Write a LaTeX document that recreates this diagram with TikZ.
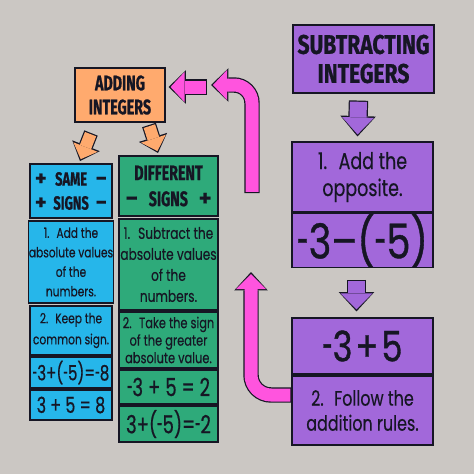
\documentclass[tikz,border=0pt]{standalone}
\usepackage{fontspec}
\usetikzlibrary{arrows.meta,calc}
\setmainfont{Poppins}
\newfontfamily\bodyf[FakeStretch=0.76,FakeBold=0.3]{Poppins}
\newfontfamily\eqf[FakeStretch=0.72,FakeBold=0.6]{Poppins}
\newfontfamily\bigf[FakeStretch=0.8,FakeBold=0.8]{Poppins}
\newfontfamily\hdr[FakeStretch=0.68,FakeBold=0.8]{Fira Sans}
\newfontfamily\hdrw[FakeStretch=0.78,FakeBold=0.8]{Fira Sans}
\newfontfamily\sgn[FakeBold=0.6]{Fira Sans}
\newcommand\hy{\scalebox{0.55}[1]{-}}
\definecolor{wall}{RGB}{203,199,195}
\definecolor{orng}{RGB}{255,170,110}
\definecolor{cyanb}{RGB}{38,182,234}
\definecolor{greenb}{RGB}{46,170,122}
\definecolor{purp}{RGB}{162,104,218}
\definecolor{pnk}{RGB}{255,84,222}
\definecolor{ink}{RGB}{22,22,36}
\newcommand\barrow[6][]{%
  \pgfmathsetmacro\bsw{#3+2.4}\pgfmathsetmacro\bhw{#4+3.6}\pgfmathsetmacro\bhl{#5+3.4}%
  \draw[ink, line width=\bsw pt, #1, -{Triangle[length=\bhl pt, width=\bhw pt, line width=0pt]}] #6;
  \draw[#2, line width=#3pt, #1, shorten >=2pt, shorten <=1.2pt, -{Triangle[length=#5pt, width=#4pt, line width=0pt]}] #6;
}
\tikzset{
  card/.style={draw=ink, line width=1.1pt, inner sep=0pt, align=center, text=ink},
}
\begin{document}
\begin{tikzpicture}[x=1pt,y=-1pt]
\fill[wall] (0,0) rectangle (474,474);
\useasboundingbox (0,0) rectangle (474,474);

% Adding integers
\node[card, fill=orng, minimum width=90pt, minimum height=54pt, font=\hdr\bfseries\fontsize{21}{24}\selectfont] (add) at (120,95) {ADDING\\INTEGERS};

% Subtracting integers
\node[card, fill=purp, minimum width=141pt, minimum height=68pt, font=\hdrw\bfseries\fontsize{27}{29}\selectfont] (sub) at (363.5,59) {SUBTRACTING\\INTEGERS};

% cyan column
\node[card, fill=cyanb, minimum width=82pt, minimum height=54pt, font=\hdr\bfseries\fontsize{19}{24}\selectfont] (c1) at (71,191)
  {\makebox[72pt]{{\sgn\fontsize{22}{24}\selectfont +}\hfill SAME\hfill{\sgn\fontsize{22}{24}\selectfont −}}\\\makebox[72pt]{{\sgn\fontsize{22}{24}\selectfont +}\hfill SIGNS\hfill{\sgn\fontsize{22}{24}\selectfont −}}};
\node[card, fill=cyanb, minimum width=82pt, minimum height=82pt, font=\bodyf\fontsize{14}{19.5}\selectfont] (c2) at (71,262)
  {1.\enspace Add the\\absolute values\\of the\\numbers.};
\node[card, fill=cyanb, minimum width=82pt, minimum height=49pt, font=\bodyf\fontsize{14}{21}\selectfont] (c3) at (71,330.5)
  {2.\enspace Keep the\\common sign.};
\node[card, fill=cyanb, minimum width=82pt, minimum height=31pt, font=\eqf\fontsize{21}{23}\selectfont] (c4) at (71,372.5)
  {\hy3+(\hy5)=\hy8};
\node[card, fill=cyanb, minimum width=82pt, minimum height=30pt, font=\eqf\fontsize{22}{24}\selectfont] (c5) at (71,405)
  {3 + 5 = 8};

% green column
\node[card, fill=greenb, minimum width=99pt, minimum height=60pt, font=\hdr\bfseries\fontsize{21}{26}\selectfont] (g1) at (168.5,186)
  {DIFFERENT\\\makebox[86pt]{{\sgn\fontsize{24}{26}\selectfont −}\hfill SIGNS\hfill{\sgn\fontsize{24}{26}\selectfont +}}};
\node[card, fill=greenb, minimum width=99pt, minimum height=91pt, font=\bodyf\fontsize{16}{21}\selectfont] (g2) at (168.5,264.5)
  {1.\enspace Subtract the\\absolute values\\of the\\numbers.};
\node[card, fill=greenb, minimum width=99pt, minimum height=56pt, font=\bodyf\fontsize{15}{17.5}\selectfont] (g3) at (168.5,340)
  {2.\enspace Take the sign\\of the greater\\absolute value.};
\node[card, fill=greenb, minimum width=99pt, minimum height=34pt, font=\eqf\fontsize{25}{27}\selectfont] (g4) at (168.5,387)
  {\hy3\kern5pt+\kern5pt5\kern5pt=\kern5pt2};
\node[card, fill=greenb, minimum width=99pt, minimum height=36pt, font=\eqf\fontsize{25}{27}\selectfont] (g5) at (168.5,424)
  {3+(\hy5)=\hy2};

% purple column
\node[card, fill=purp, minimum width=141pt, minimum height=70pt, font=\bodyf\fontsize{23}{27}\selectfont] (p1) at (362.5,177)
  {1.\enspace Add the\\opposite.};
\node[card, fill=purp, minimum width=141pt, minimum height=53pt, font=\bigf\fontsize{48}{50}\selectfont] (p2) at (362.5,240.5)
  {\hy3–(\hy5)};
\node[card, fill=purp, minimum width=141pt, minimum height=56pt, font=\bigf\fontsize{42}{44}\selectfont] (p3) at (362.5,346)
  {\hy3\kern3pt+\kern3pt5};
\node[card, fill=purp, minimum width=141pt, minimum height=69pt, font=\bodyf\fontsize{21}{25}\selectfont] (p4) at (362.5,410.5)
  {2.\enspace Follow the\\addition rules.};

% purple arrows
\barrow{purp}{17}{32}{17}{($(sub.south)+(-5,7)$) -- ($(p1.north)+(-5,-5)$)}
\barrow{purp}{17}{32}{16}{($(p2.south)+(-6,12)$) -- ($(p3.north)+(-6,-6)$)}

% orange arrows
\coordinate (oa1s) at (91,133);
\coordinate (oa1e) at (80,161);
\coordinate (oa2s) at (149,125);
\coordinate (oa2e) at (158,153);
\barrow{orng}{12}{26}{13}{(oa1s) -- (oa1e)}
\barrow{orng}{12}{26}{13}{(oa2s) -- (oa2e)}

% pink arrows
\coordinate (pk1s) at (207,87);
\coordinate (pk1e) at ($(add.east)+(3,-8)$);
\barrow{pnk}{13}{30}{14}{(pk1s) -- (pk1e)}
\coordinate (pk2s) at (252,193);
\coordinate (pk2c) at (252,85);
\coordinate (pk2e) at (211,85);
\barrow[rounded corners=18pt]{pnk}{13}{30}{14}{(pk2s) -- (pk2c) -- (pk2e)}
\coordinate (pk3s) at ($(p4.west)+(0,-15.5)$);
\coordinate (pk3c) at (251,395);
\coordinate (pk3e) at (251,272);
\barrow[rounded corners=20pt]{pnk}{13}{30}{15}{(pk3s) -- (pk3c) -- (pk3e)}
\end{tikzpicture}
\end{document}
